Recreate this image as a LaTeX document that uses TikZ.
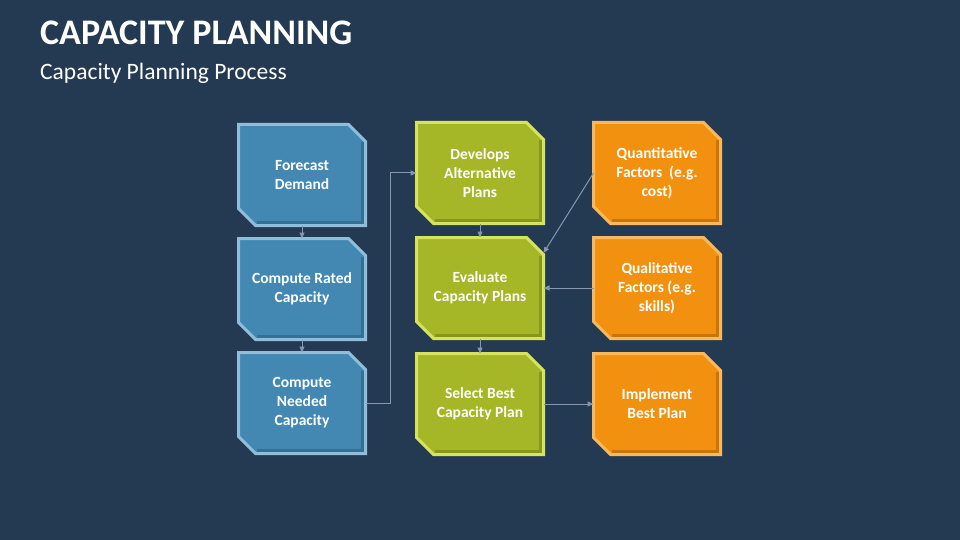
\documentclass[tikz,border=0pt]{standalone}
\usepackage{fontspec}
\setmainfont{Carlito}
\usetikzlibrary{arrows.meta,calc}
\definecolor{bg}{HTML}{243A52}
\definecolor{bluef}{HTML}{4288B3}
\definecolor{blueb}{HTML}{8FBDDA}
\definecolor{blued}{HTML}{346F94}
\definecolor{greenf}{HTML}{A5B627}
\definecolor{greenb}{HTML}{D5E35E}
\definecolor{greend}{HTML}{87961C}
\definecolor{orangef}{HTML}{F29110}
\definecolor{orangeb}{HTML}{F8B95E}
\definecolor{oranged}{HTML}{C8760A}
\definecolor{connc}{HTML}{8496B0}
\pgfdeclarelayer{background}
\pgfsetlayers{background,main}
\begin{document}
\begin{tikzpicture}[x=1pt,y=-1pt,
  stage/.style={rectangle, minimum width=127pt, minimum height=101pt,
    inner sep=0pt, outer sep=0pt, text=white, align=center,
    font=\fontsize{15.5}{19}\selectfont\bfseries},
  stageshape/.style={line width=3pt, line join=miter},
  bevel/.style={line width=3pt},
  conn/.style={draw=connc, line width=1pt, -{Triangle[length=6pt,width=5pt]}},
  title/.style={text=white, anchor=base west, inner sep=0pt}]
\useasboundingbox (0,0) rectangle (960,540);
\node[title, font=\fontsize{36}{42}\selectfont\bfseries] (t) at (40,45) {CAPACITY PLANNING};
\node[title, font=\fontsize{23.5}{28}\selectfont] (st) at (40,80) {Capacity Planning Process};

\node[stage] (b1) at (302,175) {Forecast\\Demand};
\node[stage] (b2) at (302,289) {Compute Rated\\Capacity};
\node[stage] (b3) at (302,403) {Compute\\Needed\\Capacity};

\node[stage] (g1) at (480,173) {Develops\\Alternative\\Plans};
\node[stage] (g2) at (480,288) {Evaluate\\Capacity Plans};
\node[stage] (g3) at (480,404) {Select Best\\Capacity Plan};

\node[stage] (o1) at (657,173) {Quantitative\\Factors\ \ (e.g.\\cost)};
\node[stage] (o2) at (657,288) {Qualitative\\Factors (e.g.\\skills)};
\node[stage] (o3) at (657,404) {Implement\\Best Plan};

\begin{pgfonlayer}{background}
\fill[bg] (0,0) rectangle (960,540);
\foreach \n/\f/\b/\d in {b1/bluef/blueb/blued, b2/bluef/blueb/blued, b3/bluef/blueb/blued,
    g1/greenf/greenb/greend, g2/greenf/greenb/greend, g3/greenf/greenb/greend,
    o1/orangef/orangeb/oranged, o2/orangef/orangeb/oranged, o3/orangef/orangeb/oranged}{
  \fill[\f] (\n.north west) -- ($(\n.north east)+(-17,0)$) -- ($(\n.north east)+(0,17)$)
    -- (\n.south east) -- ($(\n.south west)+(17,0)$) -- ($(\n.south west)+(0,-17)$) -- cycle;
  \draw[bevel, \d] ($(\n.north east)+(-3,18)$) -- ($(\n.south east)+(-3,-3)$)
    -- ($(\n.south west)+(18,-3)$);
  \draw[stageshape, \b] (\n.north west) -- ($(\n.north east)+(-17,0)$) -- ($(\n.north east)+(0,17)$)
    -- (\n.south east) -- ($(\n.south west)+(17,0)$) -- ($(\n.south west)+(0,-17)$) -- cycle;
}
\end{pgfonlayer}

\draw[conn] (b1) -- (b2);
\draw[conn] (b2) -- (b3);
\draw[conn] (b3.east) -- ++(25,0) |- (g1.west);
\draw[conn] (g1) -- (g2);
\draw[conn] (g2) -- (g3);
\draw[conn] (o1.west) -- ($(g2.east)+(0,-35)$);
\draw[conn] (o2) -- (g2);
\draw[conn] (g3) -- (o3);
\end{tikzpicture}
\end{document}
